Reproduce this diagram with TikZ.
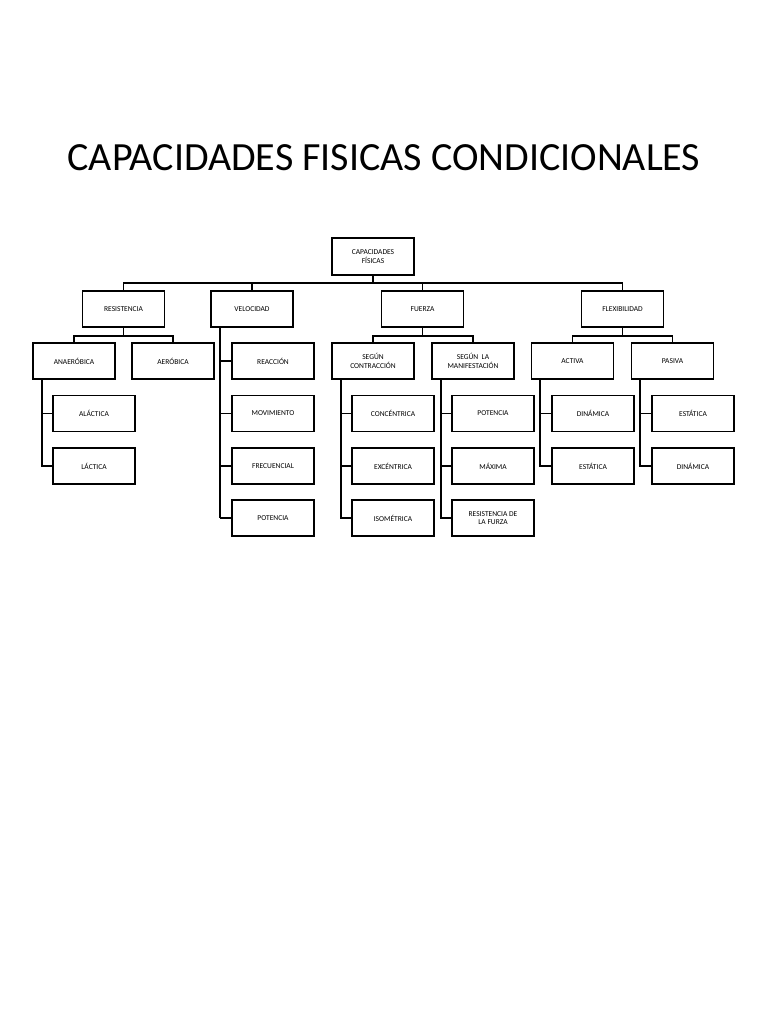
\documentclass[tikz,border=0pt]{standalone}
\usepackage{fontspec}
\setmainfont{Carlito}
\begin{document}
\begin{tikzpicture}[x=1pt,y=-1pt,
  bx/.style={draw,line width=1.6pt,minimum width=82pt,minimum height=36pt,inner sep=1pt,align=center,font=\fontsize{7.5}{8.5}\selectfont},
  ln/.style={line width=1.6pt}]
\useasboundingbox (0,0) rectangle (768,1024);
\node (title) at (384,158) {\fontsize{40}{44}\selectfont CAPACIDADES FISICAS CONDICIONALES};
\node[bx,minimum height=37pt] (root) at (373,256.5) {CAPACIDADES\\FÍSICAS};
\node[bx] (res) at (123.5,309) {RESISTENCIA};
\node[bx] (vel) at (252,309) {VELOCIDAD};
\node[bx] (fue) at (422.5,309) {FUERZA};
\node[bx] (fle) at (622.5,309) {FLEXIBILIDAD};
\node[bx] (ana) at (74,361) {ANAERÓBICA};
\node[bx] (aer) at (173,361) {AERÓBICA};
\node[bx] (rea) at (273,361) {REACCIÓN};
\node[bx] (sc) at (373,361) {SEGÚN\\CONTRACCIÓN};
\node[bx] (sm) at (473,361) {SEGÚN\ \ LA\\MANIFESTACIÓN};
\node[bx] (act) at (572.5,361) {ACTIVA};
\node[bx] (pas) at (672.5,361) {PASIVA};
\node[bx] (ala) at (94,413.5) {ALÁCTICA};
\node[bx] (lac) at (94,466) {LÁCTICA};
\node[bx] (mov) at (273,413.5) {MOVIMIENTO};
\node[bx] (fre) at (273,466) {FRECUENCIAL};
\node[bx] (pot) at (273,518) {POTENCIA};
\node[bx] (con) at (393,413.5) {CONCÉNTRICA};
\node[bx] (exc) at (393,466) {EXCÉNTRICA};
\node[bx] (iso) at (393,518) {ISOMÉTRICA};
\node[bx] (pot2) at (493,413.5) {POTENCIA};
\node[bx] (max) at (493,466) {MÁXIMA};
\node[bx] (rdf) at (493,518) {RESISTENCIA DE\\LA FURZA};
\node[bx] (din) at (593,413.5) {DINÁMICA};
\node[bx] (est) at (593,466) {ESTÁTICA};
\node[bx] (est2) at (693,413.5) {ESTÁTICA};
\node[bx] (din2) at (693,466) {DINÁMICA};
% level 1 bus
\draw[ln] (root.south) -- (373,283);
\draw[ln] (res.north) |- (fle.north |- 0,283) -- (fle.north);
\draw[ln] (vel.north) -- (vel.north |- 0,283);
\draw[ln] (fue.north) -- (fue.north |- 0,283);
% level 2 buses
\draw[ln] (res.south) -- (123.5,336);
\draw[ln] (ana.north) |- (aer.north |- 0,336) -- (aer.north);
\draw[ln] (fue.south) -- (422.5,336);
\draw[ln] (sc.north) |- (sm.north |- 0,336) -- (sm.north);
\draw[ln] (fle.south) -- (622.5,336);
\draw[ln] (act.north) |- (pas.north |- 0,336) -- (pas.north);
% rails
\draw[ln] (42,0 |- ana.south) |- (ala.west); \draw[ln] (42,0 |- ala.west) |- (lac.west);
\draw[ln] (220,0 |- vel.south) |- (rea.west);
\foreach \n in {mov,fre,pot} \draw[ln] (220,0 |- \n.west) -- (\n.west);
\draw[ln] (220,0 |- rea.west) -- (220,0 |- pot.west);
\draw[ln] (341,0 |- sc.south) |- (iso.west);
\foreach \n in {con,exc} \draw[ln] (341,0 |- \n.west) -- (\n.west);
\draw[ln] (441,0 |- sm.south) |- (rdf.west);
\foreach \n in {pot2,max} \draw[ln] (441,0 |- \n.west) -- (\n.west);
\draw[ln] (540,0 |- act.south) |- (est.west);
\draw[ln] (540,0 |- din.west) -- (din.west);
\draw[ln] (640,0 |- pas.south) |- (din2.west);
\draw[ln] (640,0 |- est2.west) -- (est2.west);
\end{tikzpicture}
\end{document}
